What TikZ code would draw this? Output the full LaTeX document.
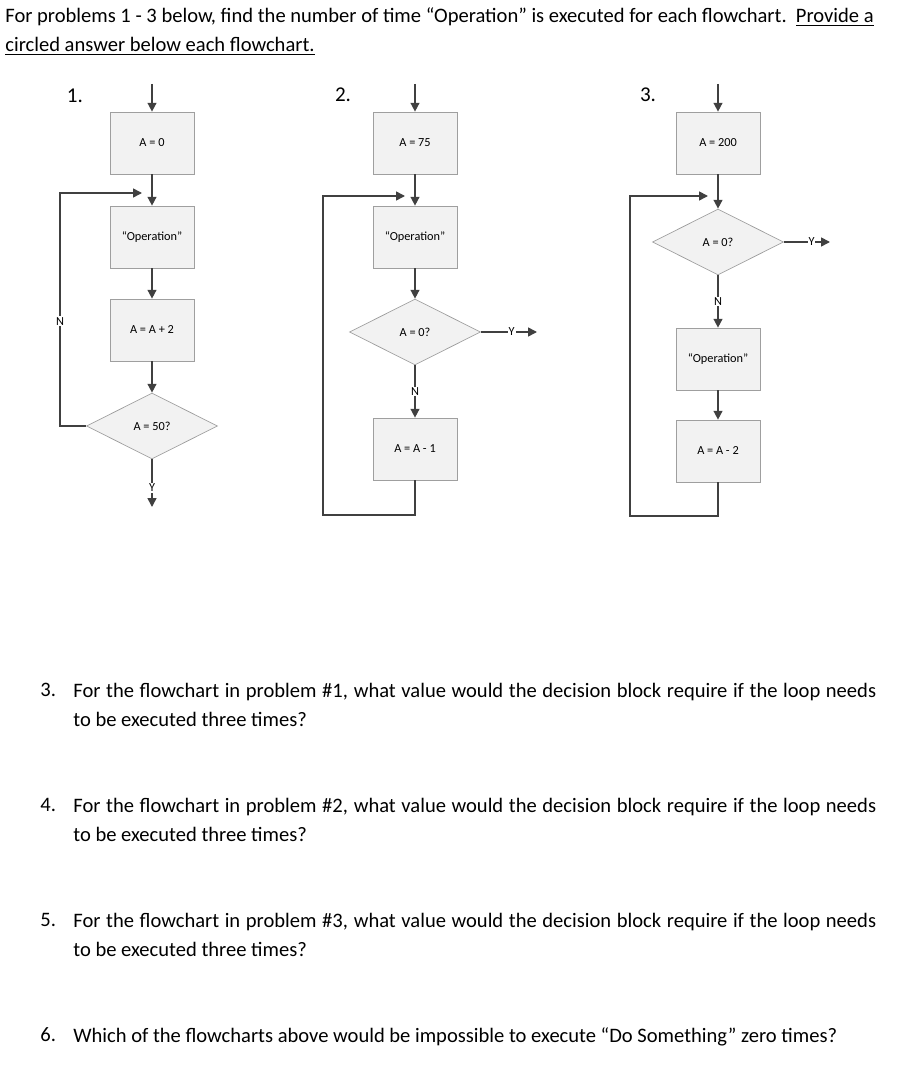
\documentclass[tikz,border=0pt]{standalone}
\usepackage{fontspec}
\setmainfont{Carlito}
\usetikzlibrary{shapes.geometric,arrows.meta}
\begin{document}
\begin{tikzpicture}[x=0.02cm,y=-0.02cm,
  box/.style={draw=gray!75,fill=gray!10,minimum width=1.68cm,minimum height=1.24cm,inner sep=0pt,font=\fontsize{7}{8}\selectfont},
  dec/.style={diamond,draw=gray!75,fill=gray!10,minimum width=2.62cm,minimum height=1.32cm,inner sep=0pt,font=\fontsize{7}{8}\selectfont},
  flow/.style={draw=black!75,line width=0.9pt,-{Triangle[width=5pt,length=5pt]}},
  lbl/.style={fill=white,inner sep=0.5pt,font=\fontsize{7}{8}\selectfont},
  num/.style={font=\fontsize{12}{14}\selectfont},
  txt/.style={anchor=north west,inner sep=0pt,font=\fontsize{11.7}{16.5}\selectfont,align=justify}]
\useasboundingbox (0,0) rectangle (896,1084);

% header
\node[anchor=west,inner sep=0pt,font=\fontsize{11.7}{13}\selectfont] (h1) at (5,17)
  {For problems 1 - 3 below, find the number of time “Operation” is executed for each flowchart.\ \ \underline{Provide a}};
\node[anchor=west,inner sep=0pt,font=\fontsize{11.7}{13}\selectfont] (h2) at (5,46)
  {\underline{circled answer below each flowchart.}};

% flowchart 1
\node[num] (n1) at (75,96) {1.};
\coordinate (s1) at (152,84);
\node[box] (a1) at (152,143) {A = 0};
\node[box] (o1) at (152,237) {“Operation”};
\node[box] (p1) at (152,330) {A = A + 2};
\node[dec] (d1) at (152,426) {A = 50?};
\coordinate (e1) at (152,507);
\coordinate (l1) at (60,426);
\coordinate (t1) at (60,193);
\coordinate (r1) at (142,193);
\draw[flow] (s1) -- (a1);
\draw[flow] (a1) -- (o1);
\draw[flow] (o1) -- (p1);
\draw[flow] (p1) -- (d1);
\draw[flow] (d1) -- node[lbl,pos=0.6]{Y} (e1);
\draw[flow] (d1.west) -- (l1) -- node[lbl,pos=0.45]{N} (t1) -- (r1);

% flowchart 2
\node[num] (n2) at (343,95) {2.};
\coordinate (s2) at (415,84);
\node[box] (a2) at (415,143) {A = 75};
\node[box] (o2) at (415,237) {“Operation”};
\node[dec] (d2) at (415,332) {A = 0?};
\node[box] (m2) at (415,449) {A = A - 1};
\coordinate (y2) at (537,332);
\coordinate (b2) at (415,515);
\coordinate (l2) at (323,515);
\coordinate (t2) at (323,196);
\coordinate (r2) at (405,196);
\draw[flow] (s2) -- (a2);
\draw[flow] (a2) -- (o2);
\draw[flow] (o2) -- (d2);
\draw[flow] (d2) -- node[lbl,pos=0.5]{N} (m2);
\draw[flow] (d2.east) -- node[lbl,pos=0.55]{Y} (y2);
\draw[flow] (m2) -- (b2) -- (l2) -- (t2) -- (r2);

% flowchart 3
\node[num] (n3) at (648,95) {3.};
\coordinate (s3) at (718,84);
\node[box] (a3) at (718,143) {A = 200};
\node[dec] (d3) at (718,242) {A = 0?};
\node[box] (o3) at (718,359) {“Operation”};
\node[box] (m3) at (718,451) {A = A - 2};
\coordinate (y3) at (830,242);
\coordinate (b3) at (718,516);
\coordinate (l3) at (630,516);
\coordinate (t3) at (630,196);
\coordinate (r3) at (708,196);
\draw[flow] (s3) -- (a3);
\draw[flow] (a3) -- (d3);
\draw[flow] (d3) -- node[lbl,pos=0.5]{N} (o3);
\draw[flow] (o3) -- (m3);
\draw[flow] (d3.east) -- node[lbl,pos=0.6]{Y} (y3);
\draw[flow] (m3) -- (b3) -- (l3) -- (t3) -- (r3);

% questions
\node[txt] (q3n) at (40,683) {3.};
\node[txt,text width=16.06cm] (q3) at (73,683) {For the flowchart in problem \#1, what value would the decision block require if the loop needs\linebreak to be executed three times?};
\node[txt] (q4n) at (40,798) {4.};
\node[txt,text width=16.06cm] (q4) at (73,798) {For the flowchart in problem \#2, what value would the decision block require if the loop needs\linebreak to be executed three times?};
\node[txt] (q5n) at (40,913) {5.};
\node[txt,text width=16.06cm] (q5) at (73,913) {For the flowchart in problem \#3, what value would the decision block require if the loop needs\linebreak to be executed three times?};
\node[txt] (q6n) at (40,1027) {6.};
\node[txt,text width=16.06cm] (q6) at (73,1027) {Which of the flowcharts above would be impossible to execute “Do Something” zero times?};
\end{tikzpicture}
\end{document}
